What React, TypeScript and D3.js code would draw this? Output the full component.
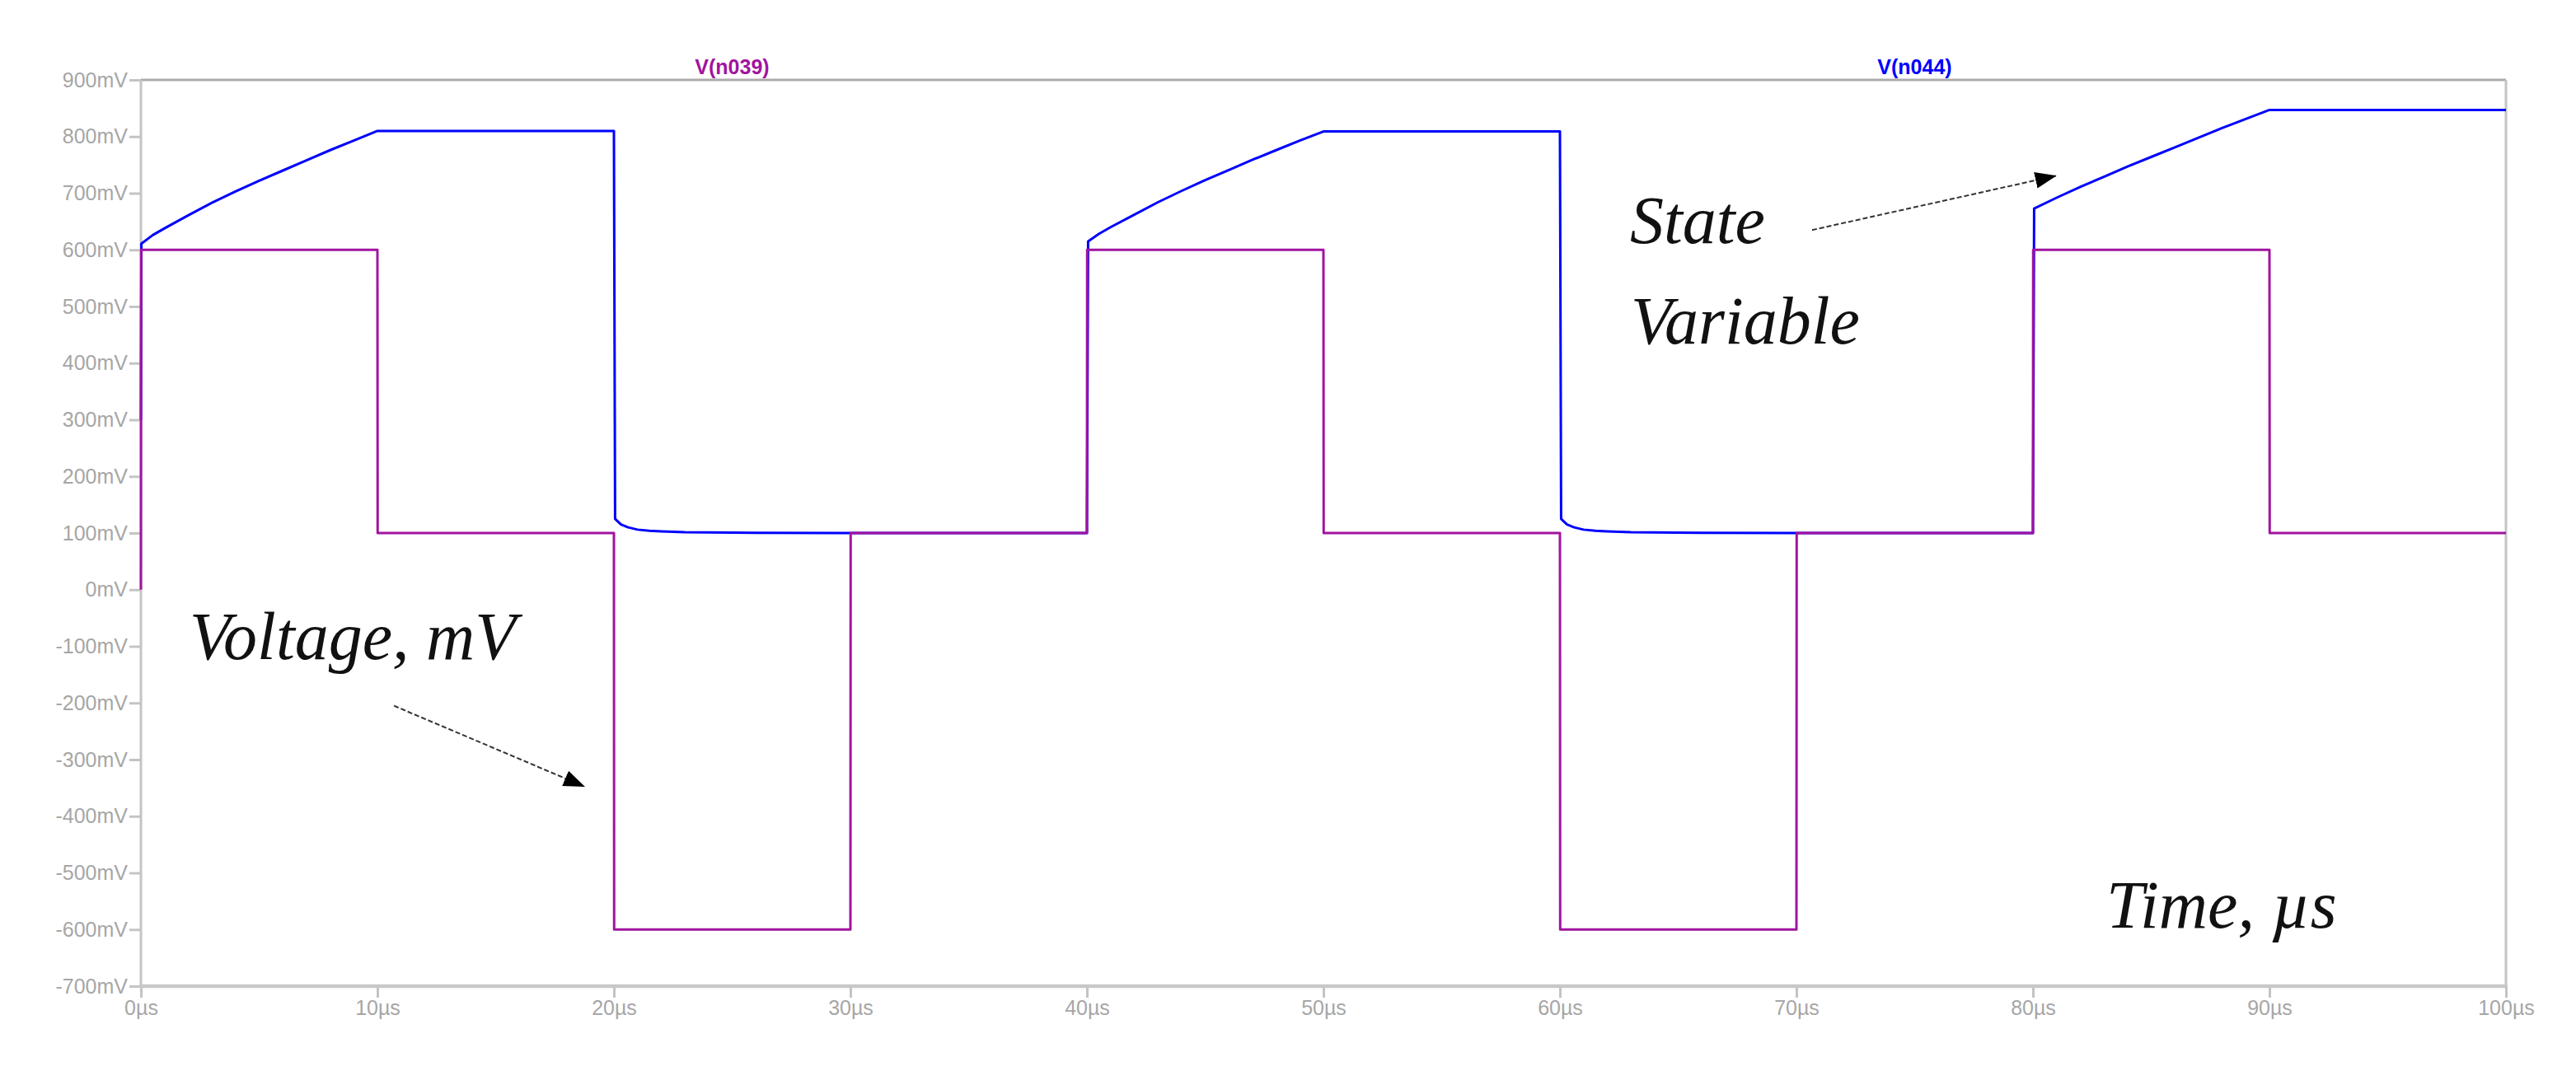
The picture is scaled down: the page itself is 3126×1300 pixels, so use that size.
import { useEffect, useRef } from 'react'
import * as d3 from 'd3'

// V(n039) - applied voltage pulses (µs, mV)
const n039Time = [0, 0.01, 10, 10.01, 20, 20.01, 30, 30.01, 40, 40.01, 50, 50.01, 60, 60.01, 70, 70.01, 80, 80.01, 90, 90.01, 100]
const n039mV = [0, 600, 600, 100, 100, -600, -600, 100, 100, 600, 600, 100, 100, -600, -600, 100, 100, 600, 600, 100, 100]

// V(n044) - state variable (µs, mV)
const n044Time = [
	0, 0.02, 0.5, 1, 2, 3, 4, 5, 6, 7, 8, 9, 10,
	20, 20.05, 20.3, 20.6, 21, 21.5, 22, 23, 24, 26, 30,
	40, 40.05, 40.5, 41, 42, 43, 44, 45, 46, 47, 48, 49, 50,
	60, 60.05, 60.3, 60.6, 61, 61.5, 62, 63, 64, 66, 70,
	80, 80.05, 81, 82, 83, 84, 85, 86, 87, 88, 89, 90,
	100,
]
const n044mV = [
	300, 611, 626, 638, 661, 683, 703, 722, 740, 758, 776, 793, 810,
	810, 125, 115, 110, 106, 104, 103, 101.5, 101, 100.5, 100,
	100, 615, 628, 640, 662, 684, 704, 723, 741, 759, 776, 793, 809,
	809, 125, 115, 110, 106, 104, 103, 101.5, 101, 100.5, 100,
	100, 673, 692, 711, 729, 747, 764, 781, 798, 815, 831, 847,
	847,
]

const voltTicks = [900, 800, 700, 600, 500, 400, 300, 200, 100, 0, -100, -200, -300, -400, -500, -600, -700]
const timeTicks = [0, 10, 20, 30, 40, 50, 60, 70, 80, 90, 100]

const traceNames = ['V(n039)', 'V(n044)']
const traceLabelTime = [25, 75]

// hand-written notes on the plot (data coords)
const noteText = ['Voltage, mV', 'State', 'Variable', 'Time, µs']
const noteTime = [2.06, 62.96, 63.0, 83.1]
const noteMV = [-122, 612, 435, -597]

const arrowFromTime = [10.7, 70.66]
const arrowFromMV = [-205, 635]
const arrowToTime = [18.78, 81.0]
const arrowToMV = [-348, 731]

const App = () => {
	const svgRef = useRef(null)

	useEffect(() => {
		const width = 3126
		const height = 1300
		const margin = { top: 97, right: 85, bottom: 103, left: 171 }
		const purple = '#a0149f'
		const blue = '#0000ff'
		const sans = '"Liberation Sans", Arial, sans-serif'

		d3.select(svgRef.current).selectAll('*').remove()

		const svg = d3
			.select(svgRef.current)
			.attr('width', width)
			.attr('height', height)
			.attr('viewBox', `0 0 ${width} ${height}`)

		svg.append('rect').attr('width', width).attr('height', height).attr('fill', 'white')

		const x = d3.scaleLinear().domain([0, 100]).range([margin.left, width - margin.right])
		const y = d3.scaleLinear().domain([-700, 900]).range([height - margin.bottom, margin.top])

		// Axes
		const yAxis = d3
			.axisLeft(y)
			.tickValues(voltTicks)
			.tickFormat((d) => `${d}mV`)
			.tickSize(14)
			.tickPadding(2)
		const xAxis = d3
			.axisBottom(x)
			.tickValues(timeTicks)
			.tickFormat((d) => `${d}µs`)
			.tickSize(14)
			.tickPadding(3)

		const gy = svg.append('g').attr('transform', `translate(${margin.left},0)`).call(yAxis)
		const gx = svg.append('g').attr('transform', `translate(0,${height - margin.bottom})`).call(xAxis)
		;[gx, gy].forEach((g) => {
			g.select('.domain').remove()
			g.selectAll('line').attr('stroke', '#c4c4c4').attr('stroke-width', 3)
			g.selectAll('text').attr('fill', '#a6a6a6').style('font-family', sans).style('font-size', '25px')
		})

		// Frame
		const x0 = x(0)
		const x1 = x(100)
		const yTop = y(900)
		const yBot = y(-700)
		svg.append('line').attr('x1', x0).attr('x2', x1).attr('y1', yTop).attr('y2', yTop).attr('stroke', '#ababab').attr('stroke-width', 3)
		svg.append('line').attr('x1', x1).attr('x2', x1).attr('y1', yTop).attr('y2', yBot).attr('stroke', '#c4c4c4').attr('stroke-width', 3)
		svg.append('line').attr('x1', x0).attr('x2', x0).attr('y1', yTop).attr('y2', yBot).attr('stroke', '#c4c4c4').attr('stroke-width', 3)
		svg.append('line').attr('x1', x0 - 1.5).attr('x2', x1 + 1.5).attr('y1', yBot).attr('y2', yBot).attr('stroke', '#c8c8c8').attr('stroke-width', 4.5)

		// Traces
		const line = d3
			.line()
			.x((d) => x(d[0]))
			.y((d) => y(d[1]))

		const n044 = n044Time.map((t, i) => [t, n044mV[i]])
		const n039 = n039Time.map((t, i) => [t, n039mV[i]])

		svg.append('path').datum(n044).attr('d', line).attr('fill', 'none').attr('stroke', blue).attr('stroke-width', 3).attr('stroke-linejoin', 'round')
		svg.append('path').datum(n039).attr('d', line).attr('fill', 'none').attr('stroke', purple).attr('stroke-width', 3).attr('stroke-linejoin', 'round')

		// Trace names above the plot
		svg
			.selectAll('.trace-name')
			.data(traceNames)
			.join('text')
			.attr('x', (d, i) => x(traceLabelTime[i]))
			.attr('y', yTop - 7)
			.attr('text-anchor', 'middle')
			.style('font-family', sans)
			.style('font-size', '25px')
			.style('font-weight', 'bold')
			.attr('fill', (d, i) => (i === 0 ? purple : blue))
			.text((d) => d)

		// Notes
		svg
			.selectAll('.note')
			.data(noteText)
			.join('text')
			.attr('x', (d, i) => x(noteTime[i]))
			.attr('y', (d, i) => y(noteMV[i]))
			.style('font-family', '"Liberation Serif", "Times New Roman", serif')
			.style('font-style', 'italic')
			.style('font-size', '82px')
			.attr('fill', '#111')
			.text((d) => d)

		// Arrows
		svg
			.append('defs')
			.append('marker')
			.attr('id', 'head')
			.attr('viewBox', '0 0 26 20')
			.attr('refX', 26)
			.attr('refY', 10)
			.attr('markerWidth', 26)
			.attr('markerHeight', 20)
			.attr('markerUnits', 'userSpaceOnUse')
			.attr('orient', 'auto')
			.append('path')
			.attr('d', 'M0,0 L26,10 L0,20 Z')
			.attr('fill', '#000')

		svg
			.selectAll('.arrow')
			.data(arrowFromTime)
			.join('line')
			.attr('x1', (d) => x(d))
			.attr('y1', (d, i) => y(arrowFromMV[i]))
			.attr('x2', (d, i) => x(arrowToTime[i]))
			.attr('y2', (d, i) => y(arrowToMV[i]))
			.attr('stroke', '#333')
			.attr('stroke-width', 2)
			.attr('stroke-dasharray', '6 3')
			.attr('marker-end', 'url(#head)')
	}, [])

	return <svg ref={svgRef} style={{ position: 'absolute', left: 0, top: 0, display: 'block' }}></svg>
}

export default App
